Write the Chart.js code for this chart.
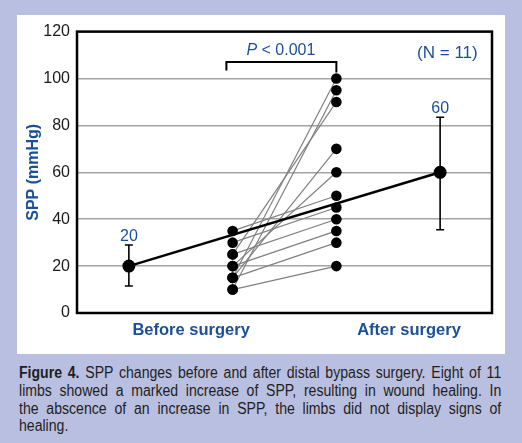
<!DOCTYPE html>
<html>
<head>
<meta charset="utf-8">
<script src="https://cdn.jsdelivr.net/npm/chart.js@4.4.1/dist/chart.umd.min.js"></script>
<style>
  html, body { margin: 0; padding: 0; }
  body { width: 522px; height: 443px; background: #b9bfe0; position: relative; overflow: hidden; }
  #panel { position: absolute; left: 17px; top: 15px; width: 488px; height: 339px; background: #ffffff; }
  #cap { position: absolute; left: 19px; top: 364px; width: 482px; font-family: "Liberation Sans", Arial, sans-serif; font-size: 16px; line-height: 17.8px; color: #1e1e1e; }
  #cap .ln { width: 548px; transform: scaleX(0.88); transform-origin: 0 0; text-align: justify; text-align-last: justify; white-space: nowrap; }
  #cap .last { text-align: left; text-align-last: left; }
  #cap b { font-weight: bold; }
</style>
</head>
<body>
<div id="panel"><canvas id="c" width="488" height="339"></canvas></div>
<div id="cap">
  <div class="ln"><b>Figure 4.</b> SPP changes before and after distal bypass surgery. Eight of 11</div>
  <div class="ln">limbs showed a marked increase of SPP, resulting in wound healing. In</div>
  <div class="ln">the abscence of an increase in SPP, the limbs did not display signs of</div>
  <div class="ln last">healing.</div>
</div>
<script>
// ---- data ----
const categories = ['Before surgery', 'After surgery'];
const beforeValues = [35, 30, 25, 20, 20, 15, 15, 15, 10, 10, 25];
const afterValues  = [50, 45, 40, 35, 60, 30, 70, 100, 20, 95, 90];
const meanValues   = [20, 60];
const errLow       = [11.5, 35.5];
const errHigh      = [29, 83.5];
const meanLabels   = ['20', '60'];
const yTicks       = [0, 20, 40, 60, 80, 100, 120];
const pLabel       = 'P < 0.001';
const nLabel       = '(N = 11)';

const BLUE = '#1b4f9a';
const X_BEFORE_MEAN = 1, X_BEFORE = 2, X_AFTER = 3, X_AFTER_MEAN = 4;

const datasets = [];
const pts = [];
beforeValues.forEach(v => pts.push({x: X_BEFORE, y: v}));
afterValues.forEach(v => pts.push({x: X_AFTER, y: v}));
datasets.push({
  type: 'scatter', data: pts, showLine: false,
  pointRadius: 5.3, pointBackgroundColor: '#000', pointBorderColor: '#000', pointBorderWidth: 0
});
datasets.push({
  type: 'line', data: [{x: X_BEFORE_MEAN, y: meanValues[0]}, {x: X_AFTER_MEAN, y: meanValues[1]}],
  borderColor: '#000', borderWidth: 2.5, pointRadius: 6.5,
  pointBackgroundColor: '#000', pointBorderColor: '#000', pointBorderWidth: 0
});
beforeValues.forEach((b, i) => {
  datasets.push({
    type: 'line', data: [{x: X_BEFORE, y: b}, {x: X_AFTER, y: afterValues[i]}],
    borderColor: '#808080', borderWidth: 1.2, pointRadius: 0
  });
});

const overlay = {
  id: 'overlay',
  beforeDatasetsDraw(chart) {
    const ctx = chart.ctx, xs = chart.scales.x, ys = chart.scales.y;
    ctx.save();
    ctx.strokeStyle = '#000'; ctx.lineWidth = 1.6;
    [X_BEFORE_MEAN, X_AFTER_MEAN].forEach((xv, i) => {
      const x = xs.getPixelForValue(xv);
      const y1 = ys.getPixelForValue(errLow[i]), y2 = ys.getPixelForValue(errHigh[i]);
      ctx.beginPath();
      ctx.moveTo(x, y1); ctx.lineTo(x, y2);
      ctx.moveTo(x - 4, y1); ctx.lineTo(x + 4, y1);
      ctx.moveTo(x - 4, y2); ctx.lineTo(x + 4, y2);
      ctx.stroke();
    });
    ctx.restore();
  },
  afterDatasetsDraw(chart) {
    const ctx = chart.ctx, xs = chart.scales.x, ys = chart.scales.y, a = chart.chartArea;
    ctx.save();
    ctx.strokeStyle = '#000'; ctx.lineWidth = 2.5;
    ctx.strokeRect(a.left, a.top, a.right - a.left, a.bottom - a.top);
    ctx.fillStyle = BLUE; ctx.font = '16px "Liberation Sans", Arial, sans-serif';
    ctx.textAlign = 'center'; ctx.textBaseline = 'alphabetic';
    [X_BEFORE_MEAN, X_AFTER_MEAN].forEach((xv, i) => {
      ctx.fillText(meanLabels[i], xs.getPixelForValue(xv), ys.getPixelForValue(errHigh[i]) - 4);
    });
    const bl = xs.getPixelForValue(1.94), br = xs.getPixelForValue(X_AFTER);
    const bt = ys.getPixelForValue(107), bb = ys.getPixelForValue(103.4);
    ctx.strokeStyle = '#000'; ctx.lineWidth = 2;
    ctx.beginPath();
    ctx.moveTo(bl, bb); ctx.lineTo(bl, bt); ctx.lineTo(br, bt); ctx.lineTo(br, bb + 2);
    ctx.stroke();
    const cx = (bl + br) / 2 - 0.5, cy = bt - 7;
    const f1 = 'italic 16px "Liberation Sans", Arial, sans-serif';
    const f2 = '16px "Liberation Sans", Arial, sans-serif';
    const head = pLabel.slice(0, 1), rest = pLabel.slice(1);
    ctx.font = f1; const w1 = ctx.measureText(head).width;
    ctx.font = f2; const w2 = ctx.measureText(rest).width;
    const sx = cx - (w1 + w2) / 2;
    ctx.textAlign = 'left';
    ctx.font = f1; ctx.fillText(head, sx, cy);
    ctx.font = f2; ctx.fillText(rest, sx + w1, cy);
    ctx.font = '17px "Liberation Sans", Arial, sans-serif';
    ctx.textAlign = 'center';
    ctx.fillText(nLabel, xs.getPixelForValue(4.07), ys.getPixelForValue(111.5) + 6);
    ctx.restore();
  }
};

new Chart(document.getElementById('c'), {
  type: 'scatter',
  data: { datasets },
  options: {
    responsive: false, animation: false, devicePixelRatio: 1,
    layout: { padding: { left: 0, right: 13, top: 16, bottom: 0 } },
    plugins: { legend: { display: false }, tooltip: { enabled: false } },
    scales: {
      x: {
        type: 'linear', min: 0.5, max: 4.5,
        afterBuildTicks: s => { s.ticks = [{value: 1.6}, {value: 3.7}]; },
        afterFit: s => { s.height = 41; },
        grid: { display: false, drawTicks: false, tickLength: 0 },
        border: { display: false },
        ticks: {
          autoSkip: false, maxRotation: 0, padding: 8,
          color: BLUE, font: { family: '"Liberation Sans", Arial, sans-serif', size: 16.5, weight: 'bold' },
          callback: (v, i) => categories[i]
        }
      },
      y: {
        type: 'linear', min: 0, max: 120,
        afterBuildTicks: s => { s.ticks = yTicks.map(v => ({value: v})); },
        afterFit: s => { s.width = 60; },
        grid: { color: '#a3a3a3', lineWidth: 1.5, drawTicks: false, tickLength: 0 },
        border: { display: false },
        ticks: {
          padding: 7, color: '#1a1a1a',
          font: { family: '"Liberation Sans", Arial, sans-serif', size: 16 }
        },
        title: {
          display: true, text: 'SPP (mmHg)', color: BLUE,
          font: { family: '"Liberation Sans", Arial, sans-serif', size: 16, weight: 'bold' },
          padding: { top: 7, bottom: 0 }
        }
      }
    }
  },
  plugins: [overlay]
});
</script>
</body>
</html>
